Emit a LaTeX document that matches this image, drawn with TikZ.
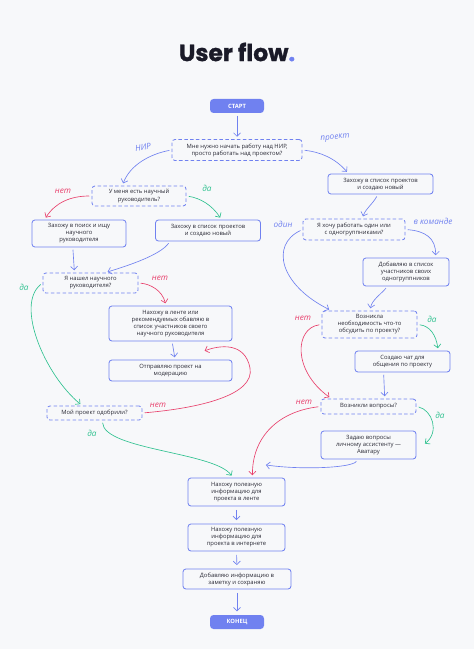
\documentclass[tikz,border=0pt]{standalone}
\usepackage{fontspec}
\setmainfont{Open Sans}
\newfontfamily\titlefont{Poppins}[BoldFeatures={FakeBold=1.2}]
\usetikzlibrary{arrows.meta}
\definecolor{bgpaper}{HTML}{F7F8FA}
\definecolor{flowblue}{HTML}{7081F0}
\definecolor{flowgreen}{HTML}{2FC18F}
\definecolor{flowred}{HTML}{E8406C}
\definecolor{ink}{HTML}{2A2A36}
\definecolor{titleink}{HTML}{1A1A28}
\tikzset{
  box/.style={draw=flowblue,line width=0.7pt,rounded corners=2.5pt,text=ink,align=center,
    font=\fontsize{5}{6}\selectfont,inner sep=0pt},
  ask/.style={box,dash pattern=on 3pt off 2pt},
  term/.style={fill=flowblue,rounded corners=3pt,text=white,inner sep=0pt,
    font=\fontsize{5}{6}\selectfont\bfseries},
  wh/.style 2 args={minimum width=#1*0.03cm,minimum height=#2*0.03cm},
  arr/.style={-{Straight Barb[length=3pt,width=6pt]},line width=0.55pt,shorten <=2pt,shorten >=2pt},
  lbl/.style={font=\fontsize{7}{7}\selectfont\itshape,inner sep=0pt}
}

\begin{document}
\begin{tikzpicture}[x=0.03cm,y=0.03cm]
\fill[bgpaper] (0,0) rectangle (474,-649);
\useasboundingbox (0,0) rectangle (474,-649);
\node[font=\titlefont\fontsize{20}{20}\selectfont\bfseries,text=titleink] (title) at (237,-52) {User flow{\color{flowblue}.}};

\node[term,wh={54}{14}] (start) at (237,-106) {СТАРТ};
\node[ask,wh={130}{21}] (q1) at (237,-150) {Мне нужно начать работу над НИР,\\просто работать над проектом?};
\node[ask,wh={94}{20}] (q2) at (139,-196) {У меня есть научный\\руководитель?};
\node[box,wh={94}{27}] (search) at (79,-233.5) {Захожу в поиск и ищу\\научного\\руководителя};
\node[box,wh={105}{21}] (listL) at (208,-230.5) {Захожу в список проектов\\и создаю новый};
\node[ask,wh={95}{20}] (q3) at (90.5,-283) {Я нашел научного\\руководителя?};
\node[box,wh={123}{35}] (feed) at (170.5,-323.5) {Нахожу в ленте или\\рекомендуемых обавляю в\\список участников своего\\научного руководителя};
\node[box,wh={123}{21}] (moder) at (170.5,-370.5) {Отправляю проект на\\модерацию};
\node[ask,wh={95}{14}] (q4) at (94.5,-413) {Мой проект одобрили?};

\node[box,wh={105}{20}] (listR) at (380.5,-184) {Захожу в список проектов\\и создаю новый};
\node[ask,wh={102}{21}] (q5) at (354,-229.5) {Я хочу работать один или\\с одногруппниками?};
\node[box,wh={86}{28}] (mates) at (406,-272) {Добавляю в список\\участников своих\\одногруппников};
\node[ask,wh={95}{27}] (q6) at (369.5,-324.5) {Возникла\\необходимость что-то\\обсудить по проекту?};
\node[box,wh={95}{21}] (chat) at (402.5,-361.5) {Создаю чат для\\общения по проекту};
\node[ask,wh={95}{15}] (q7) at (368.5,-406.5) {Возникли вопросы?};
\node[box,wh={95}{28}] (avatar) at (368.5,-445) {Задаю вопросы\\личному ассистенту —\\Аватару};

\node[box,wh={97}{28}] (info1) at (236.5,-492) {Нахожу полезную\\информацию для\\проекта в ленте};
\node[box,wh={97}{27}] (info2) at (236.5,-537.5) {Нахожу полезную\\информацию для\\проекта в интернете};
\node[box,wh={108}{20}] (note) at (237,-579) {Добавляю информацию в\\заметку и сохраняю};
\node[term,wh={54}{14}] (stop) at (237,-622) {КОНЕЦ};

\draw[arr,flowblue] (start.south) -- (q1.north);
\draw[arr,flowblue] (q1.west) .. controls (150,-154) and (130,-165) .. (q2.148);
\draw[arr,flowblue] (q1.east) .. controls (320,-152) and (335,-158) .. (listR.162);
\draw[arr,flowred] (q2.west) .. controls (70,-196) and (55,-203) .. (search.158);
\draw[arr,flowgreen] (q2.east) .. controls (200,-198) and (212,-205) .. (listL.39);
\draw[arr,flowblue] (search.246) -- (q3.147);
\draw[arr,flowblue] (listL.196) .. controls (160,-255) and (130,-265) .. (q3.35);
\draw[arr,flowred] (q3.east) .. controls (150,-284) and (162,-290) .. (feed.104);
\draw[arr,flowgreen] (q3.west) .. controls (15,-305) and (45,-375) .. (q4.149);
\draw[arr,flowblue] (feed.275) -- (moder.67);
\draw[arr,flowred] (q4.east) .. controls (200,-408) and (255,-395) .. (250,-368)
  .. controls (245,-342) and (220,-345) .. ([xshift=0.96cm,yshift=0.24cm]moder.north);
\draw[arr,flowgreen] (q4.317) .. controls (104,-450) and (215,-452) .. (info1.104);

\draw[arr,flowblue] (listR.256) .. controls (372,-205) and (366,-208) .. (q5.53);
\draw[arr,flowblue] (q5.east) .. controls (425,-231) and (436,-238) .. (mates.26);
\draw[arr,flowblue] (q5.west) .. controls (270,-245) and (280,-285) .. (q6.160);
\draw[arr,flowblue] (mates.218) .. controls (380,-295) and (372,-300) .. (q6.88);
\draw[arr,flowgreen] (q6.east) .. controls (430,-326) and (436,-335) .. (chat.17);
\draw[arr,flowred] (q6.west) .. controls (295,-328) and (292,-370) .. (q7.168);
\draw[arr,flowblue] (chat.210) -- (q7.26);
\draw[arr,flowgreen] (q7.east) .. controls (432,-410) and (440,-432) .. ([xshift=0.2cm]avatar.east);
\draw[arr,flowred] (q7.west) .. controls (275,-412) and (252,-440) .. (info1.42);
\draw[arr,flowblue] (avatar.233) .. controls (352,-468) and (300,-470) .. ([yshift=0.39cm]info1.28);

\draw[arr,flowblue,shorten <=3pt,shorten >=3pt] (info1.south) -- (info2.north);
\draw[arr,flowblue,shorten <=3pt,shorten >=3pt] (info2.south) -- (note.north);
\draw[arr,flowblue,shorten <=3pt,shorten >=3pt] (note.south) -- (stop.north);

\node[lbl,flowblue,rotate=8] (tNir) at (143,-147) {НИР};
\node[lbl,flowblue,rotate=5] (tProj) at (335,-138) {проект};
\node[lbl,flowred] (tNo1) at (63,-191) {нет};
\node[lbl,flowgreen] (tYes1) at (207,-188) {да};
\node[lbl,flowred] (tNo2) at (160,-278) {нет};
\node[lbl,flowgreen] (tYes2) at (24,-287) {да};
\node[lbl,flowred] (tNo3) at (158,-405) {нет};
\node[lbl,flowgreen] (tYes3) at (92,-433) {да};
\node[lbl,flowblue] (tAlone) at (283,-224) {один};
\node[lbl,flowblue] (tTeam) at (433,-221) {в команде};
\node[lbl,flowgreen] (tYes4) at (432,-319) {да};
\node[lbl,flowred] (tNo4) at (303,-318) {нет};
\node[lbl,flowgreen] (tYes5) at (440,-415) {да};
\node[lbl,flowred] (tNo5) at (304,-402) {нет};
\end{tikzpicture}
\end{document}
